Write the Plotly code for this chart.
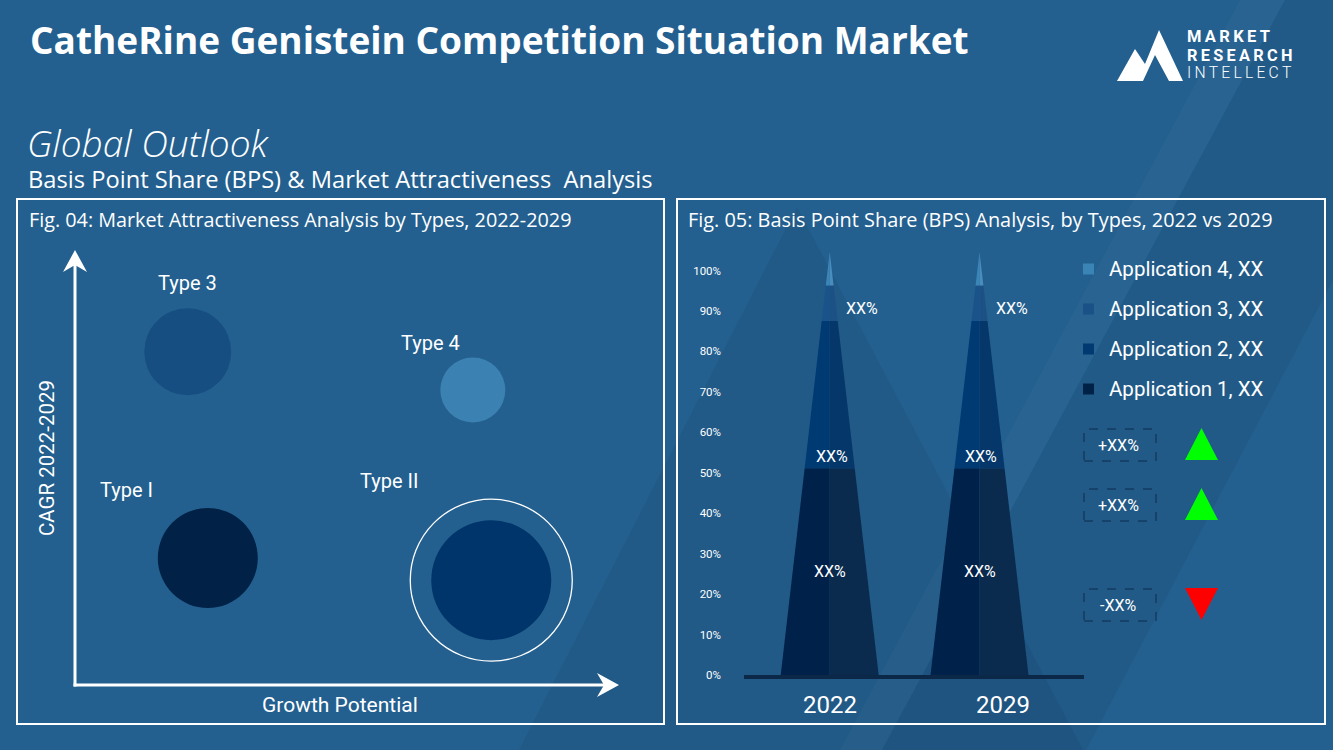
import plotly.graph_objects as go

W, H = 1333, 750


def px(x):
    return x / W


def py(y):
    return 1 - y / H


# ---------------- data ----------------
title_text = "CatheRine Genistein Competition Situation Market"
types = ["Type 3", "Type 4", "Type I", "Type II"]
growth_potential = [2.08, 7.34, 2.45, 7.68]
cagr = [7.66, 6.78, 2.92, 2.41]
bubble_size = [87, 65, 100, 120]
highlight_type = "Type II"

years = ["2022", "2029"]
applications = ["Application 1", "Application 2", "Application 3", "Application 4"]
bps_2022 = [51.1, 36.4, 8.8, 8.3]
bps_2029 = [51.1, 36.4, 8.8, 8.3]
segment_labels = ["XX%", "XX%", "XX%", ""]
legend_labels = ["Application 1, XX", "Application 2, XX", "Application 3, XX", "Application 4, XX"]
change_labels = ["+XX%", "+XX%", "-XX%"]
change_dirs = ["up", "up", "down"]
y_ticks = list(range(0, 101, 10))
y_tick_labels = [f"{v}%" for v in y_ticks]

# ---------------- styles ----------------
BG = "#23608f"
FONT = "Roboto"
FONT2 = "Open Sans"
bubble_colors = ["#164e82", "#3b82b2", "#012246", "#00356b"]
cone_left = ["#00214a", "#003a72", "#1a5389", "#3a86b9"]
cone_right = ["#0a2b4e", "#05376a", "#1c5185", "#4a8dbd"]
legend_colors = ["#002247", "#003a70", "#1a5186", "#3a85b6"]
year_label_xshift = [0, 23]

fig = go.Figure()

# ---------- bubble chart (Fig. 04) ----------
fig.add_trace(go.Scatter(
    x=growth_potential, y=cagr, mode="markers",
    marker=dict(size=bubble_size, color=bubble_colors, line=dict(width=0), opacity=1),
    xaxis="x", yaxis="y", hoverinfo="skip", showlegend=False))
hi = types.index(highlight_type)
fig.add_trace(go.Scatter(
    x=[growth_potential[hi]], y=[cagr[hi]], mode="markers",
    marker=dict(size=bubble_size[hi] + 42, color="rgba(0,0,0,0)", line=dict(width=1.3, color="white")),
    xaxis="x", yaxis="y", hoverinfo="skip", showlegend=False))

label_offsets = {"Type 3": (0, 69), "Type 4": (-42, 47), "Type I": (-81, 68), "Type II": (-102, 99)}
annotations = []
for t, gx, cy in zip(types, growth_potential, cagr):
    dx, dy = label_offsets[t]
    annotations.append(dict(x=gx, y=cy, xref="x", yref="y", text=t, showarrow=False,
                             xanchor="center", yanchor="middle",
                             xshift=dx, yshift=dy, font=dict(size=20, color="white", family=FONT)))

# ---------- cone chart (Fig. 05) ----------
half_w = 0.327
for i, shares in enumerate([bps_2022, bps_2029]):
    total = sum(shares)
    y0 = 0.0
    for j, s in enumerate(shares):
        y1 = y0 + s
        w0 = half_w * (1 - y0 / total)
        w1 = half_w * (1 - y1 / total)
        fig.add_trace(go.Scatter(
            x=[i - w0, i, i, i - w1, i - w0], y=[y0, y0, y1, y1, y0],
            fill="toself", fillcolor=cone_left[j], mode="lines", line=dict(width=0),
            xaxis="x2", yaxis="y2", hoverinfo="skip", showlegend=False))
        fig.add_trace(go.Scatter(
            x=[i, i + w0, i + w1, i, i], y=[y0, y0, y1, y1, y0],
            fill="toself", fillcolor=cone_right[j], mode="lines", line=dict(width=0),
            xaxis="x2", yaxis="y2", hoverinfo="skip", showlegend=False))
        lab = segment_labels[j]
        if lab:
            if j == 0:
                annotations.append(dict(x=i, y=(y0 + y1) / 2, xref="x2", yref="y2", text=lab,
                                        xanchor="center", yanchor="middle",
                                        showarrow=False, font=dict(size=16, color="white", family=FONT)))
            elif j == 1:
                annotations.append(dict(x=i + 0.012, y=y0, xref="x2", yref="y2", text=lab, yanchor="bottom",
                                        xanchor="center",
                                        showarrow=False, font=dict(size=16, color="white", family=FONT)))
            else:
                annotations.append(dict(x=i + 0.215, y=(y0 + y1) / 2, xref="x2", yref="y2", text=lab,
                                        xanchor="center", yanchor="middle",
                                        yshift=-5, showarrow=False,
                                        font=dict(size=16, color="white", family=FONT)))
        y0 = y1
    # year label under each cone
    annotations.append(dict(x=i, y=0, xref="x2", yref="y2", text=years[i], xanchor="center", yanchor="middle",
                            xshift=year_label_xshift[i], yshift=-30, showarrow=False,
                            font=dict(size=24, color="white", family=FONT)))

# ---------- shapes ----------
shapes = []


def poly(points, fill, layer="below", line=None):
    path = "M " + " L ".join(f"{px(x):.5f},{py(y):.5f}" for x, y in points) + " Z"
    d = dict(type="path", xref="paper", yref="paper", path=path, fillcolor=fill, layer=layer,
             line=dict(width=0))
    if line:
        d["line"] = line
    return d


# background decoration
shapes.append(poly([(797, 207), (519, 750), (1083, 750)], "rgba(15,35,70,0.10)"))
shapes.append(poly([(1285, 0), (1333, 0), (1333, 280), (1086, 750), (882, 750)], "rgba(15,35,70,0.10)"))
shapes.append(poly([(1240, 0), (1285, 0), (882, 750), (840, 750)], "rgba(255,255,255,0.025)"))

# panels
for x0, x1 in [(17, 664), (677, 1325)]:
    shapes.append(dict(type="rect", xref="paper", yref="paper", x0=px(x0), x1=px(x1), y0=py(724), y1=py(199),
                       line=dict(color="white", width=2), fillcolor="rgba(0,0,0,0)", layer="below"))

# bubble chart axis arrows
shapes.append(dict(type="line", xref="paper", yref="paper", x0=px(75), x1=px(75), y0=py(686.5), y1=py(262),
                   line=dict(color="white", width=3), layer="above"))
shapes.append(dict(type="line", xref="paper", yref="paper", x0=px(73.5), x1=px(606), y0=py(685), y1=py(685),
                   line=dict(color="white", width=3), layer="above"))
shapes.append(poly([(75, 250), (87, 272), (75, 265), (63, 272)], "white", layer="above"))
shapes.append(poly([(619, 685), (597, 697), (604, 685), (597, 673)], "white", layer="above"))

# cone base line
shapes.append(dict(type="line", xref="paper", yref="paper", x0=px(744), x1=px(1084), y0=py(677), y1=py(677),
                   line=dict(color="#0b2849", width=4), layer="above"))

# legend squares and labels
legend_y = [389, 349, 309, 269]
for lab, col, ly in zip(legend_labels, legend_colors, legend_y):
    shapes.append(dict(type="rect", xref="paper", yref="paper", x0=px(1083), x1=px(1094),
                       y0=py(ly + 5.5), y1=py(ly - 5.5), fillcolor=col, line=dict(width=0), layer="above"))
    annotations.append(dict(x=px(1107), y=py(ly), xref="paper", yref="paper", text=lab, showarrow=False,
                            xanchor="left", yanchor="middle", font=dict(size=20.5, color="white", family=FONT)))

# change boxes and triangles
box_y = [(429, 461), (489, 521), (589, 621)]
for lab, d, (b0, b1) in zip(change_labels, change_dirs, box_y):
    shapes.append(dict(type="rect", xref="paper", yref="paper", x0=px(1084), x1=px(1156), y0=py(b1), y1=py(b0),
                       line=dict(color="#0c2a4f", width=1, dash="dash"), fillcolor="rgba(0,0,0,0)", layer="above"))
    annotations.append(dict(x=px(1118), y=py((b0 + b1) / 2), xref="paper", yref="paper", text=lab,
                            showarrow=False, font=dict(size=16, color="white", family=FONT)))
    if d == "up":
        shapes.append(poly([(1201.5, b0 - 1), (1218, b1 - 1), (1185, b1 - 1)], "#00ff00", layer="above"))
    else:
        shapes.append(poly([(1185, b0 - 1), (1218, b0 - 1), (1201.5, b1 - 1)], "#ff0000", layer="above"))

# logo mark
shapes.append(poly([(1117, 81), (1135, 49), (1145, 64), (1159, 30), (1183, 81), (1169, 81), (1155, 55),
                    (1143, 81)], "white", layer="above"))

# ---------- text ----------
annotations += [
    dict(x=px(28), y=py(39), text=f"<b>{title_text}</b>", xanchor="left",
         font=dict(size=37, color="white", family=FONT2)),
    dict(x=px(25), y=py(142), text="<i>Global Outlook</i>", xanchor="left",
         font=dict(size=37, color="white", family=FONT2, weight=300)),
    dict(x=px(26), y=py(179), text="Basis Point Share (BPS) & Market Attractiveness  Analysis", xanchor="left",
         font=dict(size=23.7, color="white", family=FONT2)),
    dict(x=px(27), y=py(219), text="Fig. 04: Market Attractiveness Analysis by Types, 2022-2029", xanchor="left",
         font=dict(size=19.8, color="white", family=FONT2)),
    dict(x=px(686), y=py(219), text="Fig. 05: Basis Point Share (BPS) Analysis, by Types, 2022 vs 2029",
         xanchor="left", font=dict(size=19.9, color="white", family=FONT2)),
    dict(x=px(47), y=py(458), text="CAGR 2022-2029", textangle=-90,
         font=dict(size=20.5, color="white", family=FONT)),
    dict(x=px(340), y=py(705), text="Growth Potential", font=dict(size=21, color="white", family=FONT)),
    dict(x=px(1185), y=py(36), text="<b>M\u2009A\u2009R\u2009K\u2009E\u2009T</b>", xanchor="left",
         font=dict(size=16.5, color="white", family=FONT)),
    dict(x=px(1185), y=py(55), text="<b>R\u2009E\u2009S\u2009E\u2009A\u2009R\u2009C\u2009H</b>", xanchor="left",
         font=dict(size=16.3, color="white", family=FONT)),
    dict(x=px(1185), y=py(73), text="I\u2009N\u2009T\u2009E\u2009L\u2009L\u2009E\u2009C\u2009T", xanchor="left",
         font=dict(size=15.7, color="white", family=FONT, weight=300)),
]
for a in annotations:
    a.setdefault("xref", "paper")
    a.setdefault("yref", "paper")
    a.setdefault("showarrow", False)
    a.setdefault("xanchor", "center")
    a.setdefault("yanchor", "middle")

cone_px_per_unit = 149.8
fig.update_layout(
    template="none",
    width=W, height=H, margin=dict(l=0, r=0, t=0, b=0, pad=0, autoexpand=False), autosize=False,
    paper_bgcolor=BG, plot_bgcolor="rgba(0,0,0,0)",
    font=dict(family=FONT, color="white"),
    xaxis=dict(domain=[px(75), px(617)], range=[0, 10], visible=False, fixedrange=True, automargin=False),
    yaxis=dict(domain=[py(685), py(250)], range=[0, 10], visible=False, fixedrange=True, automargin=False),
    xaxis2=dict(domain=[px(744), px(1084)], anchor="y2", automargin=False,
                range=[-(829.7 - 744) / cone_px_per_unit, (1084 - 829.7) / cone_px_per_unit],
                showticklabels=False, showgrid=False, zeroline=False,
                showline=False, ticks="", fixedrange=True),
    yaxis2=dict(domain=[py(675), py(250)], anchor="x2", range=[0, (675 - 250) / 4.045], automargin=False,
                tickvals=y_ticks, ticktext=y_tick_labels, showgrid=False, zeroline=False, showline=False,
                ticks="", ticklabelstandoff=22, fixedrange=True,
                tickfont=dict(size=11.5, color="white", family=FONT)),
    shapes=shapes, annotations=annotations, showlegend=False,
)

fig.write_html("out.html", config={"displayModeBar": False, "responsive": False},
               post_script="document.body.style.margin='0px';document.body.style.overflow='hidden';")
